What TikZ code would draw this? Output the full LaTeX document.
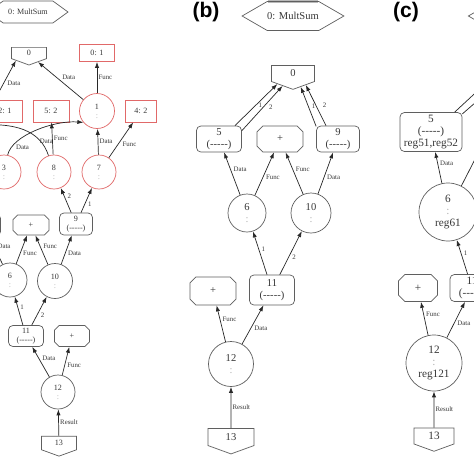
\documentclass[tikz,border=0pt]{standalone}
\usepackage{fontspec}
\setmainfont{Liberation Serif}
\setsansfont{Liberation Sans}
\usetikzlibrary{positioning,shapes,arrows,arrows.meta}
\definecolor{regred}{RGB}{225,105,105}
\definecolor{bordgray}{RGB}{95,95,95}
\definecolor{txtgray}{RGB}{55,55,55}
\definecolor{edgec}{RGB}{40,40,40}

\begin{document}
\begin{tikzpicture}
    [x=0.02cm,y=-0.02cm,auto=right,>={Latex[length=3.4pt,width=2.4pt]},
     every node/.style={inner sep=1pt, text=txtgray},
     lab/.style={font=\fontsize{3.9}{4}\selectfont, inner sep=0.7pt},
     opnode/.style={draw=bordgray, circle, inner sep=0pt, align=center},
     regnode/.style={draw=regred, circle, inner sep=0pt, align=center},
     funbox/.style={draw=regred, rectangle, inner sep=0pt},
     databox/.style={draw=bordgray, rectangle, rounded corners=2.5pt, inner sep=0pt, align=center},
     plusnode/.style={draw=bordgray, chamfered rectangle, chamfered rectangle xsep=2.8pt,
                      chamfered rectangle ysep=2.6pt, inner sep=0pt},
     portnode/.style={draw=bordgray, signal, signal to=south, signal pointer angle=140, inner sep=0pt},
     multnode/.style={draw=bordgray, signal, signal to=east and west, inner sep=0pt},
     panlabel/.style={font=\sffamily\bfseries\fontsize{12}{12}\selectfont, text=black},
     fa/.style={font=\fontsize{4.6}{5.2}\selectfont},
     fb/.style={font=\fontsize{6}{7}\selectfont},
     fc/.style={font=\fontsize{6.4}{6.6}\selectfont},
     sz/.style 2 args={minimum width=#1*0.02cm, minimum height=#2*0.02cm},
     dsz/.style={minimum size=#1*0.02cm}]
  \path[fill=white, use as bounding box] (0,0) rectangle (474,474);

  % (a)
  \node[multnode, fa, sz={80}{22}, signal pointer angle=72] (amult) at (28,12) {0: MultSum};
  \node[portnode, fa, sz={35}{12}] (a0) at (29,53) {0};
  \node[funbox, fa, sz={35}{17}] (a01) at (97,53) {0: 1};
  \node[funbox, fa, sz={35}{22}] (a21) at (5,111) {2: 1};
  \node[funbox, fa, sz={36}{22}] (a52) at (51,111) {5: 2};
  \node[regnode, fa, dsz=35] (a1) at (97,111) {1\\\textcolor{gray!60}{:}};
  \node[funbox, fa, sz={31}{22}] (a42) at (141,111) {4: 2};
  \node[regnode, fa, dsz=34] (a3) at (4,172) {3\\\textcolor{gray!60}{:}};
  \node[regnode, fa, dsz=34] (a8) at (54,172) {8\\\textcolor{gray!60}{:}};
  \node[regnode, fa, dsz=34] (a7) at (99,172) {7\\\textcolor{gray!60}{:}};
  \node[databox, fa, sz={33}{22}] (aleft) at (-16,225) {};
  \node[plusnode, fa, sz={36}{20}] (aplus) at (31,225) {+};
  \node[databox, fa, sz={33}{22}] (a9) at (76,224) {9\\(-{}-{}-{}-{}-)};
  \node[opnode, fa, dsz=34] (a6) at (10,280) {6\\\textcolor{gray!60}{:}};
  \node[opnode, fa, dsz=35] (a10) at (55,281) {10\\\textcolor{gray!60}{:}};
  \node[databox, fa, sz={35}{21}] (a11) at (26,336) {11\\(-{}-{}-{}-{}-)};
  \node[plusnode, fa, sz={35}{21}] (aplusb) at (72,336) {+};
  \node[opnode, fa, dsz=34] (a12) at (58,392) {12\\\textcolor{gray!60}{:}};
  \node[portnode, fa, sz={35}{15}] (a13) at (59,443) {13};
  \coordinate (aw1) at (-20,127);
  \coordinate (aw2) at (-30,126);
  \coordinate (aw3) at (-25,128);

  \foreach \from/\to/\lab in {a1/a0.-45/Data, a1/a01/Func, a7/a1/Data, a7/a42/Func,
      a8/a52/Func, a9/a8/2, a9/a7/1, a6/aleft/Data, a6/aplus/Func, a10/aplus/Func, a10/a9/Data,
      a11/a6/1, a11/a10/2, a12/a11/Data, a12/aplusb/Func, a13/a12/Result}
    \draw[edgec] (\from) edge[->] node[lab]{\lab} (\to);
  \draw[edgec, ->] (aw1) -- (a0.210) node[lab, pos=0.72]{Data};
  \draw[edgec, ->] (a3) .. controls (12,135) and (55,120) .. (a1.220) node[lab, pos=0.2]{Data};
  \draw[edgec, ->] (a8) .. controls (40,130) and (15,122) .. (aw2) node[lab, pos=0.17, xshift=-2.5pt, yshift=-0.5pt]{Data};
  \draw[edgec, ->] (a3) -- (aw3) node[lab, pos=0.5]{Data};

  % (b)
  \fill[gray!55] (268,0) rectangle (318,2.5);
  \node[panlabel] (lblb) at (206,12) {(b)};
  \node[multnode, fb, sz={100}{29}, signal pointer angle=60] (bmult) at (293,16) {0: MultSum};
  \node[portnode, fb, sz={43}{17}] (b0) at (293,73.5) {0};
  \node[databox, fb, sz={45}{26}] (b5) at (219,139) {5\\(-{}-{}-{}-{}-)};
  \node[plusnode, fb, sz={46}{26}] (bplus) at (280,139) {+};
  \node[databox, fb, sz={43}{26}] (b9) at (338,139) {9\\(-{}-{}-{}-{}-)};
  \node[opnode, fb, dsz=38] (b6) at (247,213) {6\\\textcolor{gray!60}{:}};
  \node[opnode, fb, dsz=40] (b10) at (311,213) {10\\\textcolor{gray!60}{:}};
  \node[plusnode, fb, sz={46}{28}] (bplusb) at (213,291) {+};
  \node[databox, fb, sz={45}{30}] (b11) at (272,290) {11\\(-{}-{}-{}-{}-)};
  \node[opnode, fb, dsz=45] (b12) at (231,364) {12\\\textcolor{gray!60}{:}};
  \node[portnode, fb, sz={46}{19}] (b13) at (231,437) {13};

  \draw[edgec, ->] (b5.40) -- (b0.214) node[lab, pos=0.5, anchor=west, xshift=0.5pt]{1};
  \draw[edgec, ->] (b5.20) -- (b0.230) node[lab, pos=0.52, anchor=west, xshift=2.5pt]{2};
  \draw[edgec, ->] (b9.150) -- (b0.300) node[lab, pos=0.5, anchor=west, xshift=1pt]{1};
  \draw[edgec, ->] (b9.132) -- (b0.318) node[lab, pos=0.5, anchor=west, xshift=3pt]{2};
  \foreach \from/\to/\lab in {b6/b5/Data, b6/bplus/Func, b10/bplus/Func, b10/b9/Data, b11/b6/1, b11/b10/2,
      b12/bplusb/Func, b12/b11/Data, b13/b12/Result}
    \draw[edgec] (\from) edge[->] node[lab]{\lab} (\to);

  % (c)
  \node[panlabel] (lblc) at (406,12) {(c)};
  \node[multnode, fc, sz={100}{29}, signal pointer angle=60] (cmult) at (521,16) {0: MultSum};
  \coordinate (c0a) at (500,70);
  \coordinate (c0b) at (506,76);
  \node[databox, fc, sz={62}{39}] (c5) at (431,132) {5\\(-{}-{}-{}-{}-)\\reg51,reg52};
  \node[opnode, fc, dsz=58] (c6) at (448,212) {6\\\textcolor{gray!60}{:}\\reg61};
  \coordinate (c6u) at (490,130);
  \node[plusnode, fc, sz={39}{27}] (cplus) at (418,288) {+};
  \node[databox, fc, sz={44}{27}] (c11) at (472,288) {11\\(-{}-{}-{}-{}-)};
  \node[opnode, fc, dsz=56] (c12) at (434,363) {12\\\textcolor{gray!60}{:}\\reg121};
  \node[portnode, fc, sz={40}{18}] (c13) at (434,436) {13};

  \draw[edgec, ->] (c5.40) -- (c0a);
  \draw[edgec, ->] (c5.30) -- (c0b);
  \draw[edgec, ->] (c6) -- (c6u);
  \foreach \from/\to/\lab in {c6/c5/Data, c11/c6/1, c12/cplus/Func, c12/c11/Data, c13/c12/Result}
    \draw[edgec] (\from) edge[->] node[lab]{\lab} (\to);
\end{tikzpicture}
\end{document}
